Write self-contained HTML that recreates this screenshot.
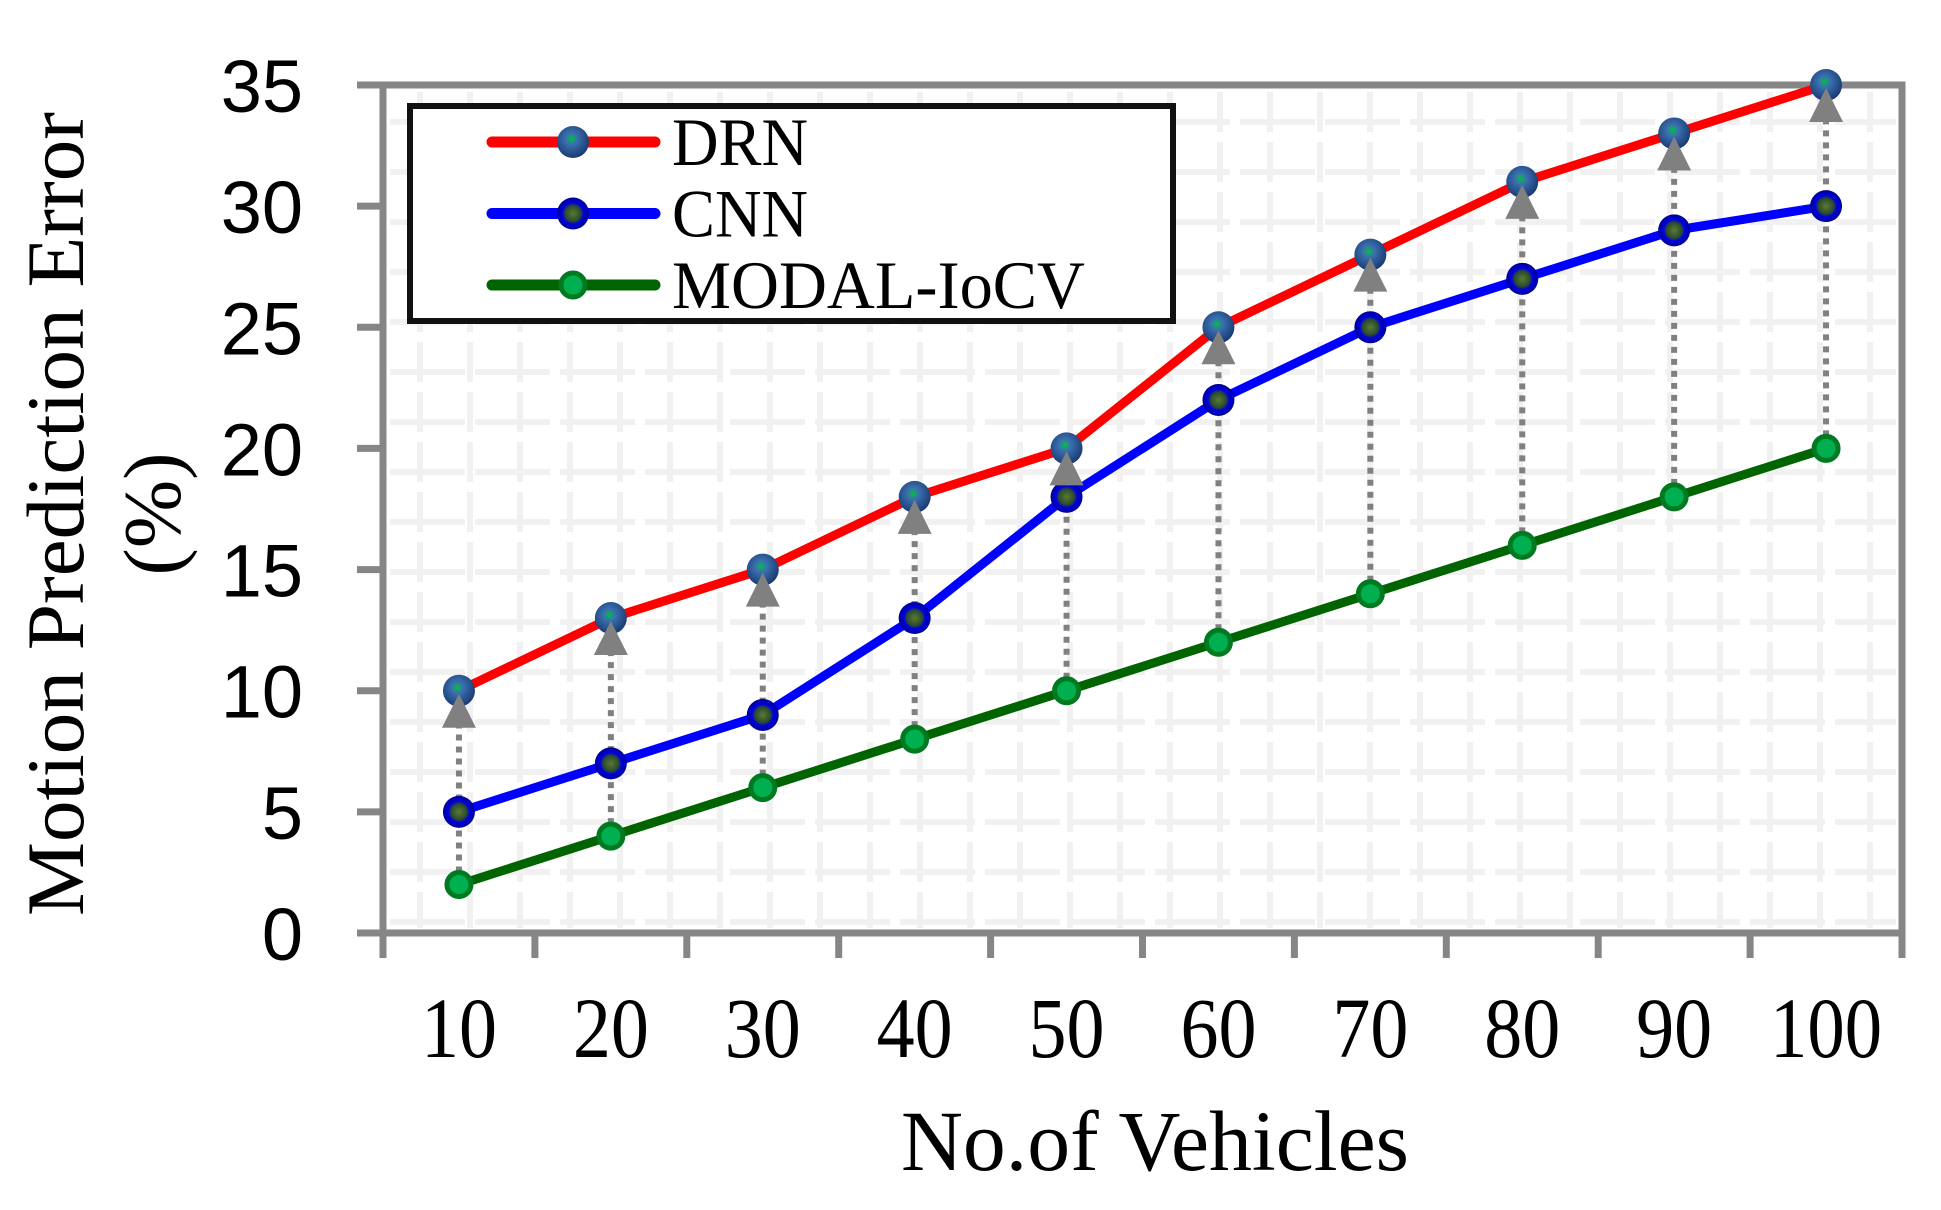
<!DOCTYPE html>
<html><head><meta charset="utf-8"><style>html,body{margin:0;padding:0;background:#fff}svg{display:block}</style></head>
<body>
<svg width="1941" height="1210" viewBox="0 0 1941 1210" xmlns="http://www.w3.org/2000/svg">
<defs>
<radialGradient id="gb" cx="0.45" cy="0.4" r="0.6">
<stop offset="0" stop-color="#00c040"/><stop offset="0.3" stop-color="#3a70b0"/><stop offset="1" stop-color="#1a3a70"/></radialGradient>
<radialGradient id="gc" cx="0.5" cy="0.5" r="0.55">
<stop offset="0" stop-color="#5a7a30"/><stop offset="0.45" stop-color="#2a4a30"/><stop offset="0.6" stop-color="#0000e0"/><stop offset="1" stop-color="#000080"/></radialGradient>
</defs>
<g id="grid" stroke="#f1f1f1" stroke-width="6">
</g>
<script>
(function(){
var ns="http://www.w3.org/2000/svg",svg=document.currentScript.parentNode,g=document.getElementById('grid');
function el(t,a,p){var e=document.createElementNS(ns,t);for(var k in a)e.setAttribute(k,a[k]);(p||svg).appendChild(e);return e;}
for(var y=922;y>=100;y-=50) el('line',{x1:390,x2:1896,y1:y,y2:y,'stroke-dasharray':'75 10'},g);
for(var x=420;x<=1880;x+=50) el('line',{x1:x,x2:x,y1:92,y2:928,'stroke-dasharray':'40 10'},g);
var L=383,R=1902,T=85,B=933,u=(B-T)/35,cw=(R-L)/10;
el('rect',{x:L,y:T,width:R-L,height:B-T,stroke:'#868686','stroke-width':7,fill:'none'});
for(var i=0;i<=7;i++){var yy=B-i*5*u;el('line',{x1:357,x2:L,y1:yy,y2:yy,stroke:'#868686','stroke-width':7});
 var t=el('text',{x:303,y:yy+27,'text-anchor':'end','font-family':'Liberation Sans, sans-serif','font-size':74,fill:'#000'});t.textContent=String(i*5);}
for(var i=0;i<=10;i++){var xx=L+i*cw;el('line',{x1:xx,x2:xx,y1:B,y2:958,stroke:'#868686','stroke-width':7});}
var px=function(i){return L+cw/2+i*cw;},py=function(v){return B-v*u;};
var drn=[10,13,15,18,20,25,28,31,33,35],cnn=[5,7,9,13,18,22,25,27,29,30],mod=[2,4,6,8,10,12,14,16,18,20];
for(var i=0;i<10;i++){var t=el('text',{x:px(i),y:1057,'text-anchor':'middle','font-family':'Liberation Serif, serif','font-size':86,fill:'#000',textLength:(i==9?112:76),lengthAdjust:'spacingAndGlyphs'});t.textContent=String((i+1)*10);}
function pl(d,c){var s='';for(var i=0;i<10;i++)s+=px(i)+','+py(d[i])+' ';el('polyline',{points:s,stroke:c,'stroke-width':9,fill:'none','stroke-linejoin':'round'});}
pl(mod,'#006400');pl(cnn,'#0000ff');pl(drn,'#ff0000');
for(var i=0;i<10;i++){var x=px(i),y1=py(mod[i]),y2=py(drn[i]);
 el('line',{x1:x,x2:x,y1:y1,y2:y2+36,stroke:'#808080','stroke-width':6,'stroke-dasharray':'6 6'});}
function mk(d,kind){for(var i=0;i<10;i++){var x=px(i),y=py(d[i]);
 if(kind==0)el('circle',{cx:x,cy:y,r:16,fill:'url(#gb)'});
 else if(kind==1)el('circle',{cx:x,cy:y,r:16,fill:'url(#gc)'});
 else el('circle',{cx:x,cy:y,r:12,fill:'#00b050',stroke:'#007a20','stroke-width':5});}}
mk(mod,2);mk(cnn,1);mk(drn,0);
for(var i=0;i<10;i++){var x=px(i),y=py(drn[i]);el('polygon',{points:(x-17)+','+(y+37)+' '+(x+17)+','+(y+37)+' '+x+','+(y+3),fill:'#808080'});}
el('rect',{x:410,y:106,width:763,height:215,fill:'#fff',stroke:'#111','stroke-width':6});
var rows=[['DRN','#ff0000',0,136],['CNN','#0000ff',1,136],['MODAL-IoCV','#006400',2,413]];
for(var r=0;r<3;r++){var y=142+r*71.5;el('line',{x1:492,x2:655,y1:y,y2:y,stroke:rows[r][1],'stroke-width':11,'stroke-linecap':'round'});
 var k=rows[r][2];if(k==0)el('circle',{cx:573,cy:y,r:16,fill:'url(#gb)'});else if(k==1)el('circle',{cx:573,cy:y,r:16,fill:'url(#gc)'});else el('circle',{cx:573,cy:y,r:12,fill:'#00b050',stroke:'#007a20','stroke-width':5});
 var t=el('text',{x:672,y:y+23,'font-family':'Liberation Serif, serif','font-size':68,fill:'#000',textLength:rows[r][3],lengthAdjust:'spacingAndGlyphs'});t.textContent=rows[r][0];}
var t=el('text',{x:0,y:0,'text-anchor':'middle','font-family':'Liberation Serif, serif','font-size':82,fill:'#000',transform:'translate(83,514) rotate(-90)',textLength:804,lengthAdjust:'spacingAndGlyphs'});t.textContent='Motion Prediction Error';
t=el('text',{x:0,y:0,'text-anchor':'middle','font-family':'Liberation Serif, serif','font-size':82,fill:'#000',transform:'translate(180,514) rotate(-90)'});t.textContent='(%)';
t=el('text',{x:1155,y:1170,'text-anchor':'middle','font-family':'Liberation Serif, serif','font-size':86,fill:'#000',textLength:508,lengthAdjust:'spacingAndGlyphs'});t.textContent='No.of Vehicles';
})();
</script>
</svg>
</body></html>
